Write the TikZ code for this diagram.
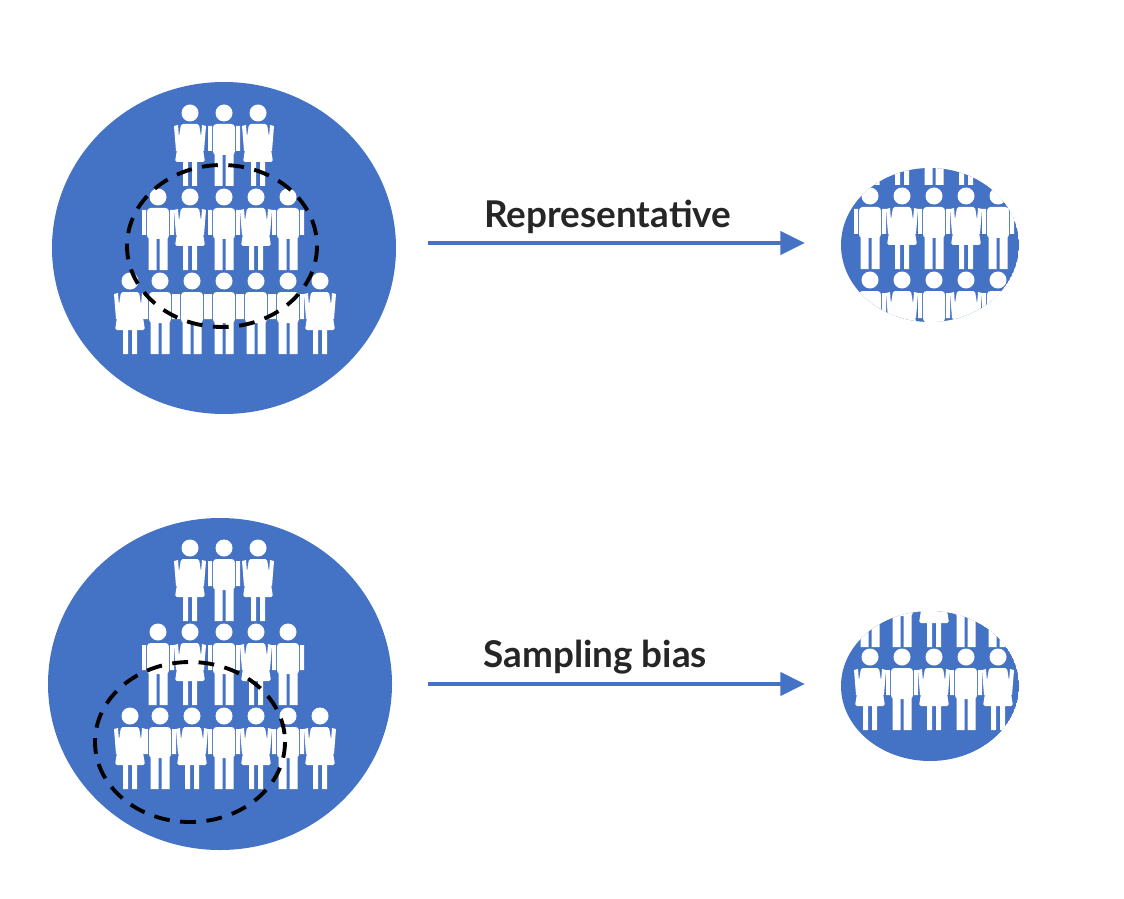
\documentclass[tikz,border=0pt]{standalone}
\usepackage{fontspec}
\setmainfont{Lato}
\usetikzlibrary{arrows.meta}
\definecolor{popblue}{HTML}{4472C4}
\tikzset{
  man/.pic={
    \fill[white] (0,0) circle (8.5);
    \fill[white,rounded corners=2] (-11,11) rectangle (11,42);
    \fill[white] (-16,13) rectangle (-12,38) (12,13) rectangle (16,38);
    \fill[white] (-9.5,40) rectangle (-1.5,73) (1.5,40) rectangle (9.5,73);
  },
  woman/.pic={
    \fill[white] (0,0) circle (8.5);
    \fill[white,rounded corners=1] (-9,11) -- (9,11) -- (15,49) -- (-15,49) -- cycle;
    \fill[white] (-16,13) -- (-12,12) -- (-10,37) -- (-14,38) -- cycle
                 (16,13) -- (12,12) -- (10,37) -- (14,38) -- cycle;
    \fill[white] (-7,48) rectangle (-2,73) (2,48) rectangle (7,73);
  },
  sample/.style={dashed, line width=2.2pt, dash pattern=on 9pt off 6pt},
  link/.style={popblue, line width=2.6pt, -{Triangle[length=14pt,width=13pt]}},
  caption/.style={font=\bfseries\fontsize{21}{24}\selectfont, text=black!85, anchor=base west, inner sep=0pt}
}
\newcommand\crowdrow[2]{% #1 = y, #2 = list of x/type
  \foreach \px/\kind in {#2} \pic at (\px,#1) {\kind};}
\begin{document}
\begin{tikzpicture}[x=0.02cm,y=-0.02cm]
\useasboundingbox (0,0) rectangle (1124,898);

% population, top
\fill[popblue] (224,248) ellipse (172 and 166);
\crowdrow{113}{190/woman,224/man,258/woman}
\crowdrow{197}{158/man,190/woman,224/man,256/woman,288/man}
\crowdrow{281}{130/woman,160/man,192/man,224/man,256/man,288/man,320/woman}
\draw[sample] (222,246) ellipse (95 and 81);

% population, bottom
\fill[popblue] (220,684) ellipse (172 and 166);
\crowdrow{548}{190/woman,224/man,258/woman}
\crowdrow{632}{158/man,190/woman,224/man,256/woman,288/man}
\crowdrow{716}{130/woman,160/man,192/woman,224/man,256/woman,288/man,320/woman}
\draw[sample] (190,742) ellipse (95 and 80);

% samples
\begin{scope}
  \clip (930,245) ellipse (89 and 77);
  \fill[popblue] (930,245) ellipse (89 and 77);
  \crowdrow{112}{870/man,902/woman,934/man,966/woman,998/man}
  \crowdrow{196}{870/man,902/woman,934/man,966/woman,998/man}
  \crowdrow{280}{870/man,902/woman,934/man,966/woman,998/man}
\end{scope}
\begin{scope}
  \clip (930,686) ellipse (89 and 75);
  \fill[popblue] (930,686) ellipse (89 and 75);
  \crowdrow{574}{870/man,902/man,934/woman,966/man,998/man}
  \crowdrow{657}{870/woman,902/man,934/woman,966/man,998/woman}
\end{scope}

% arrows
\coordinate (r0) at (428,243);
\coordinate (r1) at (805,243);
\draw[link] (r0) -- (r1);
\node[caption] (rlabel) at (484,228) {Representative};
\coordinate (s0) at (428,684);
\coordinate (s1) at (805,684);
\draw[link] (s0) -- (s1);
\node[caption] (slabel) at (483,667) {Sampling bias};
\end{tikzpicture}
\end{document}
